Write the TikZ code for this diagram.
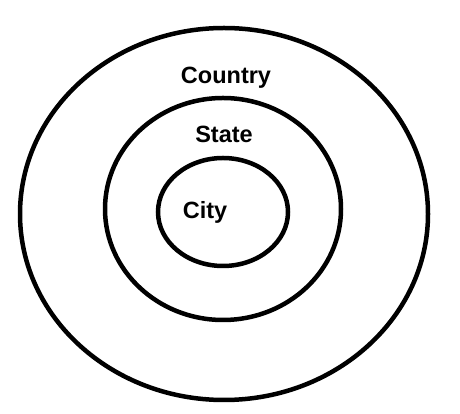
\documentclass[tikz,border=0pt]{standalone}
\usepackage{fontspec}
\setmainfont{Liberation Sans}
\begin{document}
\begin{tikzpicture}[x=1pt,y=1pt,
  ring/.style={draw=black,line width=4.5pt},
  lbl/.style={anchor=base,inner sep=0pt,font=\fontsize{23.5}{26}\selectfont\bfseries}]
\useasboundingbox (0,0) rectangle (460,414);
\draw[ring] (224,200) ellipse (204 and 186);
\draw[ring] (223,205) ellipse (118 and 111);
\draw[ring] (223,202) ellipse (65 and 54);
\node[lbl] (country) at (226,330) {Country};
\node[lbl] (state) at (224,271) {State};
\node[lbl] (city) at (205,195) {City};
\end{tikzpicture}
\end{document}
